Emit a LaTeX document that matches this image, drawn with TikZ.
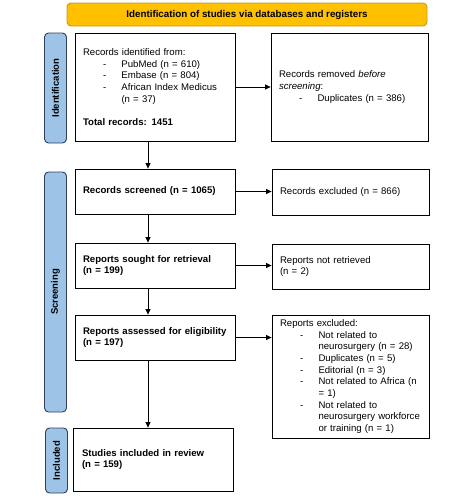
\documentclass[tikz,border=0pt]{standalone}
\usepackage{fontspec}
\setmainfont{Liberation Sans}
\usetikzlibrary{positioning,arrows.meta}
\definecolor{bannerfill}{HTML}{FFC000}
\definecolor{bannerline}{HTML}{C09A1E}
\definecolor{tabfill}{HTML}{9DC3E6}
\definecolor{tabline}{HTML}{2F3F5C}
\hyphenpenalty=10000
\newcommand{\dashitem}[1]{\hspace*{20pt}\makebox[18.5pt][l]{-}#1}
\newcommand{\dashcont}[1]{\hspace*{38.5pt}#1}
\tikzset{
  box/.style={draw, line width=0.8pt, align=left, inner xsep=8pt,
    font=\fontsize{9.6}{11.7}\selectfont},
  tab/.style={draw=tabline, fill=tabfill, line width=0.9pt, rounded corners=4pt,
    rotate=90, minimum height=22pt, inner sep=0pt,
    font=\fontsize{9.5}{11}\selectfont\bfseries},
  flow/.style={->, line width=0.8pt}
}
\begin{document}
\begin{tikzpicture}[>={Triangle[length=5.5pt,width=5pt]}, x=1pt, y=-1pt]
    \useasboundingbox (0,0) rectangle (474,496);
    % banner
    \node[draw=bannerline, fill=bannerfill, line width=0.9pt, rounded corners=4pt,
          minimum width=360pt, minimum height=23pt, inner sep=0pt,
          font=\fontsize{9.8}{11}\selectfont\bfseries] (banner) at (247,14.5)
          {Identification of studies via databases and registers};
    % phase tabs
    \node[tab, minimum width=110pt] (tabid) at (55.5,88) {Identification};
    \node[tab, minimum width=240pt] (tabscr) at (55.5,292) {Screening};
    \node[tab, minimum width=65pt] (tabinc) at (56.5,460.5) {Included};
    % left column
    \node[box, text width=144pt, minimum height=108pt] (ident) at (155,87)
          {Records identified from:\\
           \dashitem{PubMed (n = 610)}\\
           \dashitem{Embase (n = 804)}\\
           \dashitem{African Index Medicus}\\
           \dashcont{(n = 37)}\\[11.7pt]
           \textbf{Total records: 1451}};
    \node[box, text width=144pt, minimum height=45pt] (screened) at (155,191.5)
          {\textbf{Records screened (n = 1065)}};
    \node[box, text width=144pt, minimum height=45pt] (sought) at (155,265.5)
          {\textbf{Reports sought for retrieval}\\ \textbf{(n = 199)}};
    \node[box, text width=144pt, minimum height=45pt] (assessed) at (155,337.5)
          {\textbf{Reports assessed for eligibility}\\ \textbf{(n = 197)}};
    \node[box, text width=142pt, inner xsep=9pt, minimum height=63pt] (studies) at (153,459.5)
          {\textbf{Studies included in review}\\ \textbf{(n = 159)}};
    % right column
    \node[box, text width=141pt, minimum height=108pt] (removed) at (349.5,87)
          {Records removed \textit{before}\\
           \textit{screening}:\\
           \dashitem{Duplicates (n = 386)}};
    \node[box, text width=141pt, minimum height=46pt] (excluded) at (350.5,192)
          {Records excluded (n = 866)};
    \node[box, text width=141pt, minimum height=45pt] (notret) at (350.5,266.5)
          {Reports not retrieved\\ (n = 2)};
    \node[box, text width=141pt, minimum height=123pt] (repexcl) at (350.5,376.5)
          {Reports excluded:\\
           \dashitem{Not related to}\\
           \dashcont{neurosurgery (n = 28)}\\
           \dashitem{Duplicates (n = 5)}\\
           \dashitem{Editorial (n = 3)}\\
           \dashitem{Not related to Africa (n}\\
           \dashcont{= 1)}\\
           \dashitem{Not related to}\\
           \dashcont{neurosurgery workforce}\\
           \dashcont{or training (n = 1)}};
    % arrows
    \coordinate (spine) at (148,0);
    \draw[flow] (ident.south -| spine) -- (screened.north -| spine);
    \draw[flow] (screened.south -| spine) -- (sought.north -| spine);
    \draw[flow] (sought.south -| spine) -- (assessed.north -| spine);
    \draw[flow] (assessed.south -| spine) -- (studies.north -| spine);
    \draw[flow] (ident.east) -- (ident.east -| removed.west);
    \draw[flow] (screened.east) -- (screened.east -| excluded.west);
    \draw[flow] (sought.east) -- (sought.east -| notret.west);
    \draw[flow] (assessed.east) -- (assessed.east -| repexcl.west);
\end{tikzpicture}
\end{document}
